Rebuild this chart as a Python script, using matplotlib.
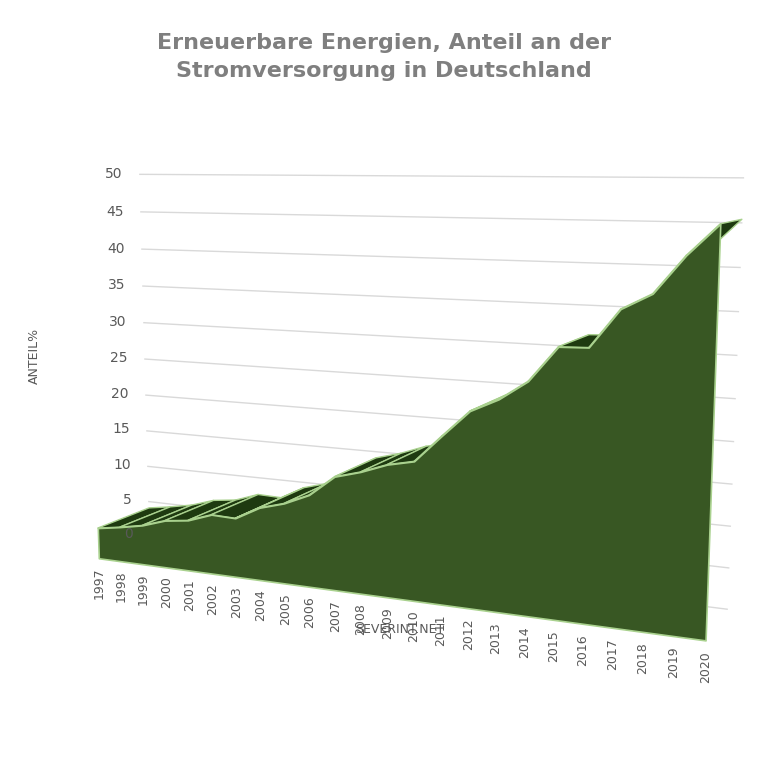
import numpy as np
import matplotlib
matplotlib.use("Agg")
import matplotlib.pyplot as plt
from mpl_toolkits.mplot3d.art3d import Poly3DCollection
from mpl_toolkits.mplot3d import proj3d

years = list(range(1997, 2021))
share = [4.1, 4.6, 5.2, 6.2, 6.6, 7.7, 7.6, 9.3, 10.2, 11.6, 14.2, 15.1,
         16.3, 17.0, 20.3, 23.5, 25.1, 27.4, 31.5, 31.6, 36.0, 37.8, 42.0, 45.4]
z_ticks = list(range(0, 55, 5))

DEPTH = 1.6
fig = plt.figure(figsize=(7.68, 7.58), dpi=100)
ax = fig.add_axes([0.0, -0.02, 1.0, 1.0], projection="3d")
ax.set_proj_type("persp", focal_length=0.35)
ax.view_init(elev=9, azim=-66)
ax.set_axis_off()
n = len(years)
xs = np.arange(n)

# back wall gridlines
for z in z_ticks:
    ax.plot([0, n - 1], [DEPTH, DEPTH], [z, z], color="#d9d9d9", lw=1, zorder=0)

# top strips
tops = []
for i in range(n - 1):
    tops.append([(xs[i], 0, share[i]), (xs[i + 1], 0, share[i + 1]),
                 (xs[i + 1], DEPTH, share[i + 1]), (xs[i], DEPTH, share[i])])
ax.add_collection3d(Poly3DCollection(tops, facecolor="#1e3a10", edgecolor="#a9d18e", lw=1))

# front face
front = [(x, 0, v) for x, v in zip(xs, share)] + [(xs[-1], 0, 0), (xs[0], 0, 0)]
ax.add_collection3d(Poly3DCollection([front], facecolor="#385723", edgecolor="#a9d18e", lw=1.2))

ax.set_xlim(0, n - 1)
ax.set_ylim(0, DEPTH)
ax.set_zlim(0, 50)
ax.set_box_aspect((2.0, 0.3, 1.25))
fig.canvas.draw()


def to_fig(x, y, z):
    px, py, _ = proj3d.proj_transform(x, y, z, ax.get_proj())
    return fig.transFigure.inverted().transform(ax.transData.transform((px, py)))


for z in z_ticks:
    fx, fy = to_fig(-0.8, DEPTH, z)
    fig.text(fx, fy, str(z), color="#595959", fontsize=10, ha="right", va="center")

for x, y in zip(xs, years):
    fx, fy = to_fig(x, 0, -1.2)
    fig.text(fx, fy, str(y), color="#595959", fontsize=9, rotation=90,
             ha="center", va="top")

fig.text(0.5, 0.925, "Erneuerbare Energien, Anteil an der\nStromversorgung in Deutschland",
         ha="center", va="center", fontsize=16, fontweight="bold", color="#7f7f7f",
         linespacing=1.5)
fig.text(0.045, 0.53, "ANTEIL%", rotation=90, ha="center", va="center",
         fontsize=9, color="#595959")
fig.text(0.52, 0.17, "SEVERINT.NET", ha="center", va="center", fontsize=9, color="#595959")
fig.savefig("out.png", dpi=100)
